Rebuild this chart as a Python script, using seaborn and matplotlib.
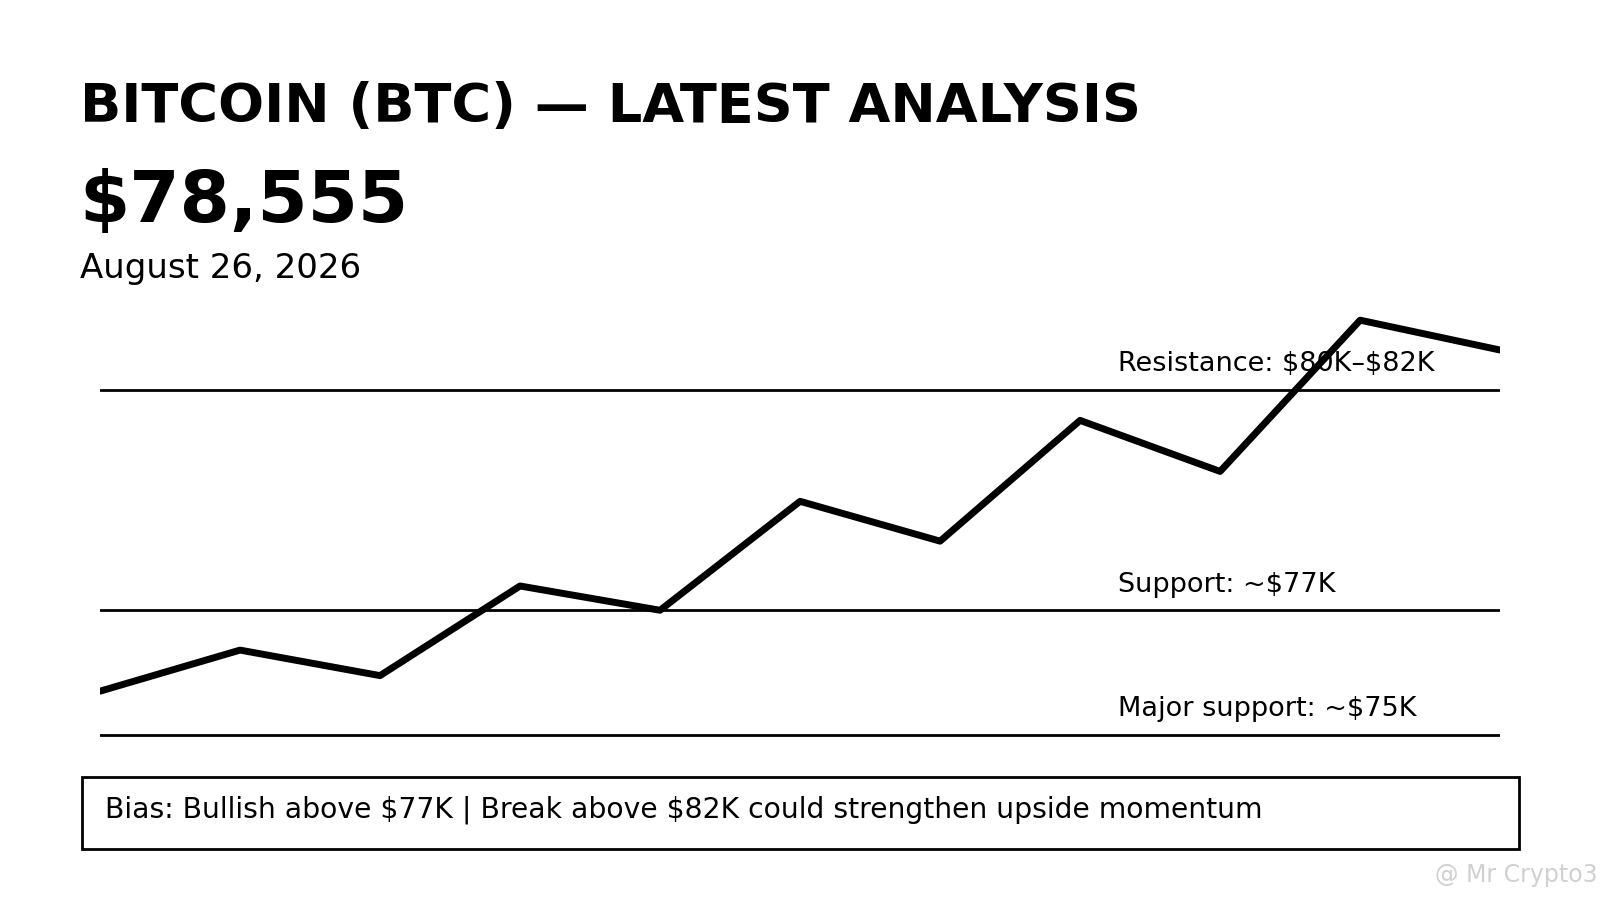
import matplotlib
matplotlib.use("Agg")
import matplotlib.pyplot as plt
import seaborn as sns
import pandas as pd
from matplotlib.patches import Rectangle

sns.set_theme(style="white")
plt.rcParams['font.family'] = ['DejaVu Sans']
plt.rcParams['text.color'] = 'black'

steps = list(range(11))
prices = [75.70, 76.36, 75.95, 77.39, 77.0, 78.75, 78.11, 80.05, 79.23, 81.66, 81.18]
levels = [80.54, 77.0, 75.0]
level_labels = ["Resistance: \\$80K–\\$82K", "Support: ~\\$77K", "Major support: ~\\$75K"]

S = 1.0205
W, H = 1600, 900
fig = plt.figure(figsize=(16, 9), dpi=100)
x0, x1 = 98 * S, 1470 * S
ytop, ybot = 300 * S, 740 * S
ax = fig.add_axes([x0 / W, 1 - ybot / H, (x1 - x0) / W, (ybot - ytop) / H])
df = pd.DataFrame({"step": steps, "price": prices})
for lv, lab in zip(levels, level_labels):
    ax.axhline(lv, color="black", lw=2)
    ax.text(7.27, lv + 0.2, lab, fontsize=19.5, va="bottom", ha="left", color="black")
sns.lineplot(data=df, x="step", y="price", color="black", lw=5, ax=ax)
ax.set_xlim(0, 10)
ax.set_ylim(77 - 142 / 61, 77 + 298 / 61)
ax.axis("off")

fig.text(78 * S / W, 1 - 120 * S / H, "BITCOIN (BTC) — LATEST ANALYSIS", fontsize=39, fontweight="bold", va="baseline")
fig.text(78 * S / W, 1 - 218 * S / H, "\\$78,555", fontsize=52, fontweight="bold", va="baseline")
fig.text(78 * S / W, 1 - 272 * S / H, "August 26, 2026", fontsize=24.5, va="baseline")
fig.patches.append(Rectangle((80 * S / W, 1 - 832 * S / H), (1488 - 80) * S / W, 71 * S / H, transform=fig.transFigure,
                             fill=False, ec="black", lw=2))
fig.text(103 * S / W, 1 - 793 * S / H, "Bias: Bullish above \\$77K | Break above \\$82K could strengthen upside momentum",
         fontsize=20.3, va="center")
fig.text(1598 / W, 1 - 857 * S / H, "@ Mr Crypto3", fontsize=17, color="#d0d0d0", ha="right", va="center")
fig.savefig("out.png", dpi=100, facecolor="white")
